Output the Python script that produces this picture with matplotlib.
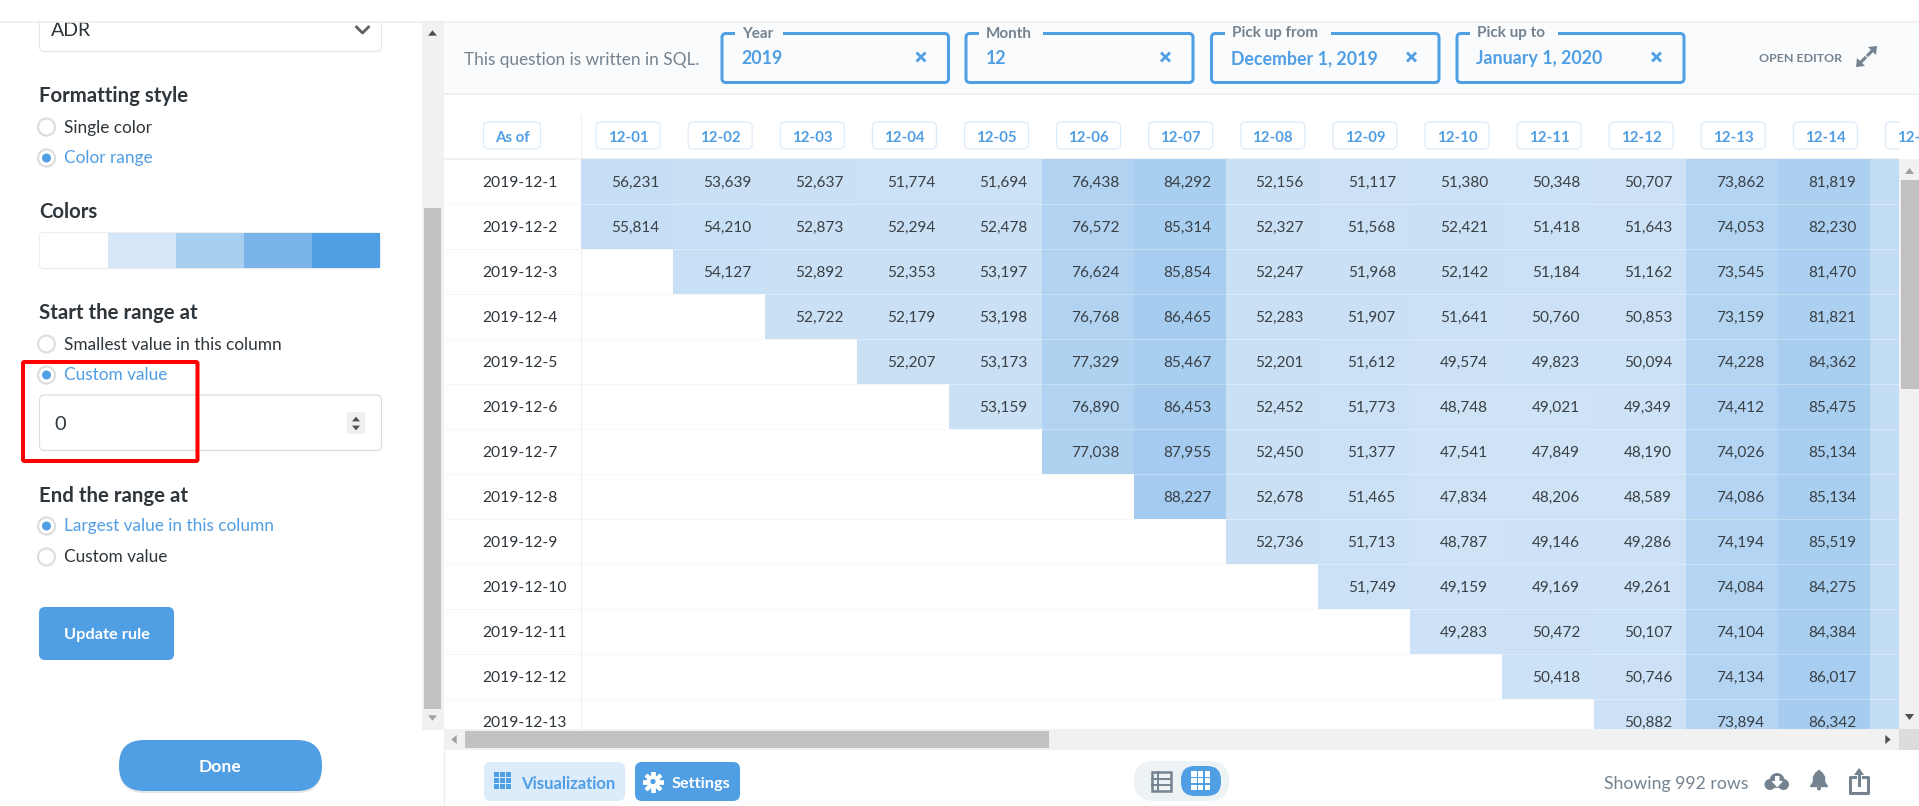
import numpy as np
import matplotlib
matplotlib.use("Agg")
import matplotlib.pyplot as plt
from matplotlib.colors import LinearSegmentedColormap
from matplotlib.patches import Circle, FancyBboxPatch, Polygon, Rectangle

plt.rcParams['font.family'] = ['Lato', 'DejaVu Sans']

# table data
column_labels = ["12-01", "12-02", "12-03", "12-04", "12-05", "12-06", "12-07",
                 "12-08", "12-09", "12-10", "12-11", "12-12", "12-13", "12-14"]
row_labels = ["2019-12-%d" % d for d in range(1, 14)]
n = np.nan
row_1 = [56231, 53639, 52637, 51774, 51694, 76438, 84292, 52156, 51117, 51380, 50348, 50707, 73862, 81819]
row_2 = [55814, 54210, 52873, 52294, 52478, 76572, 85314, 52327, 51568, 52421, 51418, 51643, 74053, 82230]
row_3 = [n, 54127, 52892, 52353, 53197, 76624, 85854, 52247, 51968, 52142, 51184, 51162, 73545, 81470]
row_4 = [n, n, 52722, 52179, 53198, 76768, 86465, 52283, 51907, 51641, 50760, 50853, 73159, 81821]
row_5 = [n, n, n, 52207, 53173, 77329, 85467, 52201, 51612, 49574, 49823, 50094, 74228, 84362]
row_6 = [n, n, n, n, 53159, 76890, 86453, 52452, 51773, 48748, 49021, 49349, 74412, 85475]
row_7 = [n, n, n, n, n, 77038, 87955, 52450, 51377, 47541, 47849, 48190, 74026, 85134]
row_8 = [n, n, n, n, n, n, 88227, 52678, 51465, 47834, 48206, 48589, 74086, 85134]
row_9 = [n, n, n, n, n, n, n, 52736, 51713, 48787, 49146, 49286, 74194, 85519]
row_10 = [n, n, n, n, n, n, n, n, 51749, 49159, 49169, 49261, 74084, 84275]
row_11 = [n, n, n, n, n, n, n, n, n, 49283, 50472, 50107, 74104, 84384]
row_12 = [n, n, n, n, n, n, n, n, n, n, 50418, 50746, 74134, 86017]
row_13 = [n, n, n, n, n, n, n, n, n, n, n, 50882, 73894, 86342]
# 12-15 is cut off by the scrollbar, only its colour can be read
cut_column = [60000, 60000, 60000, 60000, 60000, 60000, 60000, 60000, 60000, 60000, 60000, 60000, 60000]

scale_colors = ["#FFFFFF", "#D4E6F7", "#A8CEF0", "#7BB4EA", "#509EE3"]
scale_max = 170000

BLUE = "#509EE3"
GRAY = "#74838F"
DARK = "#2E353B"
LINE = "#EEEEEE"
BAR = "#F9FBFC"

W, H = 1919, 806
fig = plt.figure(figsize=(W / 100, H / 100), dpi=100)
ui = fig.add_axes([0, 0, 1, 1])
ui.set_xlim(0, W)
ui.set_ylim(H, 0)
ui.axis("off")


def rect(x0, y0, x1, y1, color, z=1):
    ui.add_patch(Rectangle((x0, y0), x1 - x0, y1 - y0, fc=color, ec="none", zorder=z))


def rbox(x0, y0, x1, y1, r=4, fc="white", ec="none", lw=1.0, z=2):
    ui.add_patch(FancyBboxPatch((x0, y0), x1 - x0, y1 - y0, boxstyle="round,pad=0,rounding_size=%g" % r,
                                fc=fc, ec=ec, lw=lw * 0.72, zorder=z))


def label(x, y, s, px=15, color=DARK, weight="normal", ha="left", z=5):
    return ui.text(x, y, s, fontsize=px * 0.72, color=color, fontweight=weight, ha=ha, va="center_baseline", zorder=z)


def radio(y, s, selected=False):
    ui.add_patch(Circle((46.5, y), 8.5, fc="white", ec="#DEDEDE", lw=1.6, zorder=3))
    if selected:
        ui.add_patch(Circle((46.5, y), 4.5, fc=BLUE, ec="none", zorder=4))
    label(64, y - 1, s, 17.3, BLUE if selected else DARK)


def tri(x, y, s, direction, color="#505050", z=5):
    pts = {"up": [(x - s, y + s * 0.6), (x + s, y + s * 0.6), (x, y - s * 0.6)],
           "down": [(x - s, y - s * 0.6), (x + s, y - s * 0.6), (x, y + s * 0.6)],
           "left": [(x + s * 0.6, y - s), (x + s * 0.6, y + s), (x - s * 0.6, y)],
           "right": [(x - s * 0.6, y - s), (x - s * 0.6, y + s), (x + s * 0.6, y)]}
    ui.add_patch(Polygon(pts[direction], fc=color, ec="none", zorder=z))


# top strip and panel separators
ui.plot([443.5, 443.5], [730, H], color=LINE, lw=1.0, zorder=1)

# left panel
rbox(39.5, 5, 381.5, 51.5, r=5, ec="#E6E6E6", lw=1.2)
rect(30, 0, 400, 21, "white", z=3)
ui.plot([0, W], [21.5, 21.5], color=LINE, lw=1.2, zorder=6)
label(51, 29.5, "ADR", 19.5, DARK)
ui.plot([356.5, 362.5, 368.5], [27, 33, 27], color="#606060", lw=2.0, zorder=5)

label(39, 94, "Formatting style", 20.4, DARK, "bold")
radio(127, "Single color")
radio(158, "Color range", True)

label(39, 210, "Colors", 20.4, DARK, "bold")
rbox(39.5, 232.5, 380.5, 268.5, r=4, ec="#EDEDED", lw=1.2)
for i in range(1, 5):
    rect(39.5 + i * 68.1, 233, 39.5 + (i + 1) * 68.1, 268, scale_colors[i], z=3)

label(39, 311, "Start the range at", 20.4, DARK, "bold")
radio(344, "Smallest value in this column")
radio(375, "Custom value", True)
rbox(39.5, 395, 381.5, 450.5, r=5, ec="#DCDCDC", lw=1.2)
label(54, 423, "0", 20, DARK)
rect(347, 412, 365, 434, "#F0F0F0", z=3)
tri(356, 419, 4, "up")
tri(356, 428, 4, "down")
rbox(23, 362, 197.5, 461, r=1.5, fc="none", ec="#FF0000", lw=4, z=7)

label(39, 493.5, "End the range at", 20.4, DARK, "bold")
radio(526, "Largest value in this column", True)
radio(557, "Custom value")

rbox(39, 607, 174, 660, r=6, fc=BLUE)
label(106.5, 633.5, "Update rule", 16.4, "white", "bold", ha="center")
rbox(119, 742, 322, 793, r=25, fc="#E6E6E6", z=1)
rbox(119, 740, 322, 791, r=25, fc=BLUE)
label(220.5, 765, "Done", 17.5, "white", "bold", ha="center")

# left panel scrollbar
rect(422, 21, 444, 730, "#F1F1F1")
rect(424, 208, 441, 709, "#C1C1C1", z=2)
tri(432.5, 33, 4.5, "up")
tri(432.5, 718, 4.5, "down", "#A0A0A0")

# filter bar
rect(444, 22, W, 93, BAR)
ui.plot([444, W], [93.5, 93.5], color=LINE, lw=1.2, zorder=2)
label(463.5, 58, "This question is written in SQL.", 17.2, GRAY)

filter_boxes = [(722, 948.5, "Year", "2019", 783),
                (966, 1193, "Month", "12", 1043),
                (1211.5, 1439, "Pick up from", "December 1, 2019", 1331),
                (1457, 1684, "Pick up to", "January 1, 2020", 1557.5)]
for x0, x1, name, value, gap_end in filter_boxes:
    rbox(x0, 33.5, x1, 82.5, r=4, fc=BAR, ec=BLUE, lw=3)
    rect(x0 + 13, 30, gap_end, 37, BAR, z=3)
    label(x0 + 20, 32, name, 15.2, GRAY, "bold")
    label(x0 + 19.5, 57, value, 17.7, BLUE, "bold")
    # the clear mark
    mx = x1 - 27.5
    ui.plot([mx - 3.5, mx + 3.5], [53.5, 60.5], color=BLUE, lw=2.0, zorder=5)
    ui.plot([mx - 3.5, mx + 3.5], [60.5, 53.5], color=BLUE, lw=2.0, zorder=5)

label(1759, 57.5, "OPEN EDITOR", 12.4, GRAY, "bold")
ui.add_patch(Polygon([(1877, 46), (1868, 47), (1876, 55)], fc=GRAY, ec="none", zorder=5))
ui.plot([1873, 1868], [50, 55], color=GRAY, lw=2.2, zorder=5)
ui.add_patch(Polygon([(1856, 67), (1865, 66), (1857, 58)], fc=GRAY, ec="none", zorder=5))
ui.plot([1860, 1865], [63, 58], color=GRAY, lw=2.2, zorder=5)

# heat table
cell_w = 92.1
cell_h = 45.0
ax_x0, ax_x1, ax_y0, ax_y1 = 581, 1899, 159, 729
ax = fig.add_axes([ax_x0 / W, 1 - ax_y1 / H, (ax_x1 - ax_x0) / W, (ax_y1 - ax_y0) / H], zorder=3)
ax.set_xlim(0, (ax_x1 - ax_x0) / cell_w)
ax.set_ylim((ax_y1 - ax_y0) / cell_h, 0)
ax.axis("off")

rows = [row_1, row_2, row_3, row_4, row_5, row_6, row_7, row_8, row_9, row_10, row_11, row_12, row_13]
table = np.array(rows, dtype=float)
full = np.column_stack([table, cut_column])
cmap = LinearSegmentedColormap.from_list("adr", scale_colors)
ax.hlines(np.arange(1, full.shape[0] + 1), 0, full.shape[1], color="#F5F6F8", lw=0.72, zorder=0.5)
ax.pcolormesh(np.arange(full.shape[1] + 1), np.arange(full.shape[0] + 1), np.ma.masked_invalid(full),
              cmap=cmap, vmin=0, vmax=scale_max, shading="flat", zorder=1)
ax.hlines(np.arange(1, full.shape[0] + 1), 0, full.shape[1], color="white", alpha=0.3, lw=0.72, zorder=2)

for r in range(table.shape[0]):
    for c in range(table.shape[1]):
        if not np.isnan(table[r, c]):
            ax.text(c + 1 - 14 / cell_w, r + 0.5, format(int(table[r, c]), ","), fontsize=15.4 * 0.72,
                    color="#3A4045", ha="right", va="center_baseline", clip_on=True, zorder=3)

# row and column heads
ui.plot([580.5, 580.5], [115, 729], color="#F0F0F0", lw=1.0, zorder=2)
ui.plot([444, ax_x1], [158.5, 158.5], color=LINE, lw=1.2, zorder=2)
rbox(483.5, 122, 540.5, 149, r=5, ec="#DCEBF9", lw=1.2)
label(512, 136, "As of", 15, BLUE, "bold", ha="center")
for c, name in enumerate(column_labels):
    cx = ax_x0 + (c + 0.5) * cell_w + 1
    rbox(cx - 32, 122, cx + 32, 149, r=5, ec="#DCEBF9", lw=1.2)
    label(cx, 136, name, 15, BLUE, "bold", ha="center")
cx = ax_x0 + 14.5 * cell_w + 1
rbox(cx - 32, 122, W + 40, 149, r=5, ec="#DCEBF9", lw=1.2)
cut_head = label(cx, 136, "12-15", 15, BLUE, "bold", ha="center")
cut_head.set_clip_path(Rectangle((0, 0), 1899, H, transform=ui.transData))
rect(1899, 100, W, 159, "white", z=4)

for r, name in enumerate(row_labels):
    y = ax_y0 + (r + 0.5) * cell_h
    label(482, y, name, 15.6, DARK)
    ui.plot([444, 580], [ax_y0 + (r + 1) * cell_h] * 2, color="#F6F6F6", lw=0.72, zorder=1)

# table scrollbars
rect(444, 729, W, 751, "white", z=4)
rect(444, 729, W, 750, "#F1F1F1", z=4)
rect(465, 731, 1049, 748, "#C1C1C1", z=5)
tri(454, 739.5, 4.5, "left", "#A0A0A0", z=6)
tri(1888, 739.5, 4.5, "right", "#505050", z=6)
rect(1899, 729, W, 750, "#DCDCDC", z=5)
fig_bar = fig.add_axes([1899 / W, 1 - 729 / H, 20 / W, (729 - 159) / H], zorder=4)
fig_bar.set_xlim(1899, W)
fig_bar.set_ylim(729, 159)
fig_bar.axis("off")
fig_bar.add_patch(Rectangle((1899, 159), 20, 570, fc="#F1F1F1", ec="none"))
fig_bar.add_patch(Rectangle((1901, 180), 18, 209, fc="#C1C1C1", ec="none"))
fig_bar.add_patch(Polygon([(1905, 174), (1914, 174), (1909.5, 168)], fc="#A0A0A0", ec="none"))
fig_bar.add_patch(Polygon([(1905, 714), (1914, 714), (1909.5, 720)], fc="#505050", ec="none"))

# bottom bar
rbox(484, 762, 625, 801, r=7, fc="#DDECFA")
for gx in range(3):
    for gy in range(3):
        rect(494 + gx * 5.8, 772 + gy * 6, 499.2 + gx * 5.8, 777.4 + gy * 6, BLUE, z=4)
label(521, 782.5, "Visualization", 16.8, BLUE, "bold")
rbox(635, 762, 740, 801, r=7, fc=BLUE)
ui.plot([653], [781.5], marker=(8, 2, 0), ms=15, color="white", mew=2.8, zorder=4)
ui.add_patch(Circle((653, 781.5), 6.3, fc="white", ec="none", zorder=4))
ui.add_patch(Circle((653, 781.5), 2.6, fc=BLUE, ec="none", zorder=5))
label(672, 782.5, "Settings", 16.3, "white", "bold")

rbox(1134, 761, 1229, 801, r=20, fc="#EDF2F5")
ui.add_patch(Rectangle((1152, 772), 18.5, 18.5, fc="none", ec=GRAY, lw=1.8, zorder=4))
ui.plot([1152, 1170], [778.5, 778.5], color=GRAY, lw=1.4, zorder=4)
ui.plot([1152, 1170], [784.5, 784.5], color=GRAY, lw=1.4, zorder=4)
ui.plot([1158, 1158], [772, 790], color=GRAY, lw=1.4, zorder=4)
rbox(1181, 766, 1221, 796, r=14, fc=BLUE, z=3)
for gx in range(3):
    for gy in range(3):
        rect(1191 + gx * 6.9, 771 + gy * 6.9, 1196.5 + gx * 6.9, 776.5 + gy * 6.9, "white", z=4)

label(1604, 782, "Showing 992 rows", 17.6, GRAY)

# cloud download icon
for cx, cy, cr in [(1770, 784.5, 5.5), (1777, 780.5, 7.5), (1783.5, 784.5, 5.5)]:
    ui.add_patch(Circle((cx, cy), cr, fc=GRAY, ec="none", zorder=4))
ui.add_patch(Polygon([(1775, 776), (1779.5, 776), (1779.5, 781), (1783, 781), (1777.3, 787.5), (1771.5, 781), (1775, 781)],
                     fc="white", ec="none", zorder=5))
# bell icon
ui.add_patch(Polygon([(1810.5, 786.5), (1813.5, 782), (1813.5, 777), (1816, 773), (1819, 770.5), (1822, 773),
                      (1824.5, 777), (1824.5, 782), (1827.5, 786.5)], fc=GRAY, ec=GRAY, lw=1, zorder=4))
ui.add_patch(Circle((1819, 788.5), 2, fc=GRAY, ec="none", zorder=4))
# share icon
ui.plot([1855, 1850, 1850, 1868, 1868, 1863], [777, 777, 793, 793, 777, 777], color=GRAY, lw=2.2, zorder=4)
ui.plot([1859, 1859], [771, 785], color=GRAY, lw=2.2, zorder=4)
ui.add_patch(Polygon([(1854, 775), (1864, 775), (1859, 768)], fc=GRAY, ec="none", zorder=4))

fig.savefig("out.png", dpi=100)
